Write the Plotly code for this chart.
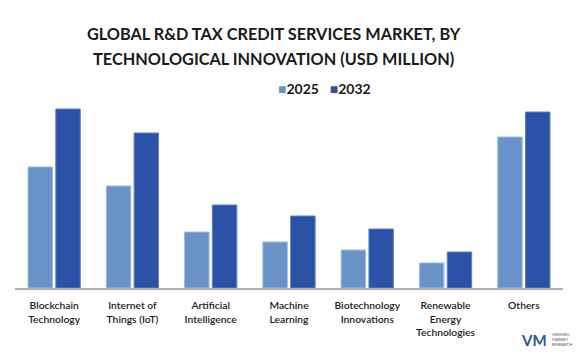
import plotly.graph_objects as go

categories = ["Blockchain<br>Technology", "Internet of<br>Things (IoT)", "Artificial<br>Intelligence",
              "Machine<br>Learning", "Biotechnology<br>Innovations", "Renewable<br>Energy<br>Technologies", "Others"]
series_names = ["2025", "2032"]
values_2025 = [121, 102, 56, 46, 38, 25, 151]
values_2032 = [179, 155, 83, 72, 59, 36, 176]
title_lines = ["GLOBAL R&D TAX CREDIT SERVICES MARKET, BY", "TECHNOLOGICAL INNOVATION (USD MILLION)"]

colors = ["#6892c8", "#2c52a8"]
edges = ["#9dbbe2", "#5a80c8"]
FONT = "Lato"

fig = go.Figure()
for name, vals, c, e in zip(series_names, [values_2025, values_2032], colors, edges):
    fig.add_trace(go.Bar(x=categories, y=vals, name=name, marker=dict(color=c, line=dict(color=e, width=1))))

fig.update_layout(
    width=578, height=354,
    margin=dict(l=15, r=15, t=103, b=66),
    paper_bgcolor="white", plot_bgcolor="white",
    bargap=0.29, bargroupgap=0.12,
    showlegend=False,
    font=dict(family=FONT, color="#1a1a1a"),
)
fig.update_xaxes(showline=True, linecolor="#b0b0b0", linewidth=1.5, ticks="", ticklabelstandoff=7,
                 tickfont=dict(family=FONT, size=10.3, color="#1a1a1a", weight=600), fixedrange=True)
fig.update_yaxes(visible=False, range=[0, 185], showgrid=False)

# title lines
for txt, yp in zip(title_lines, [1.373, 1.238]):
    fig.add_annotation(xref="paper", yref="paper", x=0.4726, y=yp, xanchor="center", yanchor="middle",
                       text="<b>" + txt + "</b>", showarrow=False,
                       font=dict(family=FONT, size=16.3, color="#1a1a1a"))

# legend
leg = "&nbsp;&nbsp;&nbsp;".join(f"<span style='color:{c}'>■</span><b>{n}</b>" for n, c in zip(series_names, colors))
fig.add_annotation(xref="paper", yref="paper", x=0.476, y=1.0757, xanchor="left", yanchor="middle",
                   text=leg, showarrow=False, font=dict(family=FONT, size=14, color="#1a1a1a"))

fig.add_annotation(xref="paper", yref="paper", x=0.975, y=-0.28, xanchor="right", yanchor="middle",
                   text="<b>VM</b>", showarrow=False, font=dict(family=FONT, size=15, color="#2c52a8"))
fig.add_annotation(xref="paper", yref="paper", x=1.02, y=-0.28, xanchor="right", yanchor="middle",
                   text="VERIFIED<br>MARKET<br>RESEARCH", showarrow=False, align="left",
                   font=dict(family=FONT, size=4, color="#555555"))

fig.write_html("out.html")
